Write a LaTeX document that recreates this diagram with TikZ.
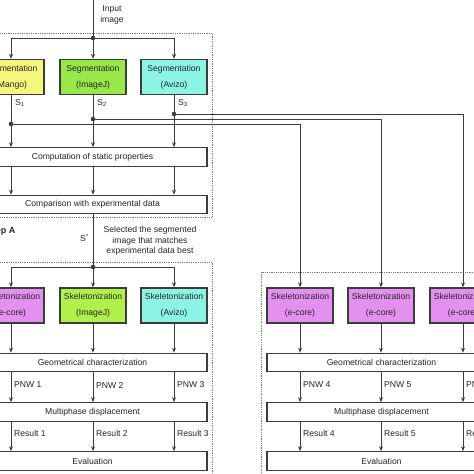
\documentclass[tikz,border=0pt]{standalone}
\usepackage{fontspec}
\setmainfont{Liberation Sans}
\usetikzlibrary{arrows.meta}
\definecolor{segyellow}{RGB}{246,246,124}
\definecolor{seggreen}{RGB}{152,232,72}
\definecolor{skelgreen}{RGB}{176,240,74}
\definecolor{segcyan}{RGB}{140,244,228}
\definecolor{skelviolet}{RGB}{228,144,240}
\definecolor{lineg}{RGB}{60,60,60}
\begin{document}
\begin{tikzpicture}[x=1pt,y=-1pt,
    font=\fontsize{8.6}{10.5}\selectfont, text=black!85,
    box/.style={draw=lineg, line width=1.3pt, minimum width=66pt, minimum height=35pt,
      inner sep=0pt, align=center, font=\fontsize{8.6}{16}\selectfont},
    bar/.style={draw=lineg, line width=1.1pt, fill=white, minimum width=229pt,
      minimum height=18.5pt, inner sep=0pt},
    arr/.style={draw=lineg, line width=.9pt, -{Stealth[length=5pt,width=4pt]}},
    lin/.style={draw=lineg, line width=.9pt},
    frame/.style={draw=gray, densely dotted, line width=.8pt},
    lbl/.style={anchor=west, inner sep=0pt}]
  \useasboundingbox (0,0) rectangle (474,474);
  % dotted frames
  \draw[frame] (-30,33) rectangle (212,217);
  \draw[frame] (-30,262) rectangle (212,490);
  \draw[frame] (261,272) rectangle (500,490);
  % step A: segmentation
  \coordinate (inp) at (93,-5);
  \coordinate (jin) at (93,38);
  \node[align=center] (inlbl) at (112,15) {Input\\image};
  \node[box, fill=segyellow] (segM) at (11,77) {Segmentation\\(Mango)};
  \node[box, fill=seggreen] (segI) at (93,77) {Segmentation\\(ImageJ)};
  \node[box, fill=segcyan] (segA) at (174,77) {Segmentation\\(Avizo)};
  \node[lbl] (s1) at (15,103) {S\textsubscript{1}};
  \node[lbl] (s2) at (97,103) {S\textsubscript{2}};
  \node[lbl] (s3) at (178,103) {S\textsubscript{3}};
  \node[bar] (compSP) at (92.5,157) {Computation of static properties};
  \node[bar] (compED) at (92.5,204.5) {Comparison with experimental data};
  \coordinate (j1) at (11,124);
  \coordinate (j2) at (93,119);
  \coordinate (j3) at (174,114);
  \draw[lin] (inp) -- (jin);
  \draw[arr] (jin) -| (segM.north);
  \draw[arr] (jin) -- (segI.north);
  \draw[arr] (jin) -| (segA.north);
  \draw[arr] (segM.south) -- (segM.south |- compSP.north);
  \draw[arr] (segI.south) -- (segI.south |- compSP.north);
  \draw[arr] (segA.south) -- (segA.south |- compSP.north);
  \draw[arr] (compSP.south -| segM) -- (compED.north -| segM);
  \draw[arr] (compSP.south -| segI) -- (compED.north -| segI);
  \draw[arr] (compSP.south -| segA) -- (compED.north -| segA);
  \node[anchor=east, font=\fontsize{9}{10}\selectfont\bfseries] (stepA) at (19,231) {Step A};
  \node[anchor=east, inner sep=0pt] (sstar) at (89,238) {S\textsuperscript{*}};
  \node[align=center] (sellbl) at (150,241) {Selected the segmented\\image that matches\\experimental data best};
  % skeletonization of S*
  \coordinate (jsel) at (93,267);
  \node[box, fill=skelviolet] (skelE) at (11,305.5) {Skeletonization\\(e-core)};
  \node[box, fill=skelgreen] (skelI) at (93,305.5) {Skeletonization\\(ImageJ)};
  \node[box, fill=segcyan] (skelA) at (174,305.5) {Skeletonization\\(Avizo)};
  \node[bar] (geomL) at (92.5,362.5) {Geometrical characterization};
  \node[bar] (multL) at (92.5,412) {Multiphase displacement};
  \node[bar] (evalL) at (92.5,461) {Evaluation};
  \draw[lin] (compED.south -| segI) -- (jsel);
  \draw[arr] (jsel) -| (skelE.north);
  \draw[arr] (jsel) -- (skelI.north);
  \draw[arr] (jsel) -| (skelA.north);
  \draw[arr] (skelE.south) -- (skelE.south |- geomL.north);
  \draw[arr] (skelI.south) -- (skelI.south |- geomL.north);
  \draw[arr] (skelA.south) -- (skelA.south |- geomL.north);
  \draw[arr] (geomL.south -| skelE) -- (multL.north -| skelE);
  \draw[arr] (geomL.south -| skelI) -- (multL.north -| skelI);
  \draw[arr] (geomL.south -| skelA) -- (multL.north -| skelA);
  \draw[arr] (multL.south -| skelE) -- (evalL.north -| skelE);
  \draw[arr] (multL.south -| skelI) -- (evalL.north -| skelI);
  \draw[arr] (multL.south -| skelA) -- (evalL.north -| skelA);
  \node[lbl] (pnw1) at (14,385) {PNW 1};
  \node[lbl] (pnw2) at (96,385) {PNW 2};
  \node[lbl] (pnw3) at (177,385) {PNW 3};
  \node[lbl] (res1) at (14,433) {Result 1};
  \node[lbl] (res2) at (96,433) {Result 2};
  \node[lbl] (res3) at (177,433) {Result 3};
  % skeletonization of S1, S2, S3 (e-core)
  \node[box, fill=skelviolet] (skelR1) at (300,305.5) {Skeletonization\\(e-core)};
  \node[box, fill=skelviolet] (skelR2) at (381,305.5) {Skeletonization\\(e-core)};
  \node[box, fill=skelviolet] (skelR3) at (463,305.5) {Skeletonization\\(e-core)};
  \node[bar] (geomR) at (381.5,362.5) {Geometrical characterization};
  \node[bar] (multR) at (381.5,412) {Multiphase displacement};
  \node[bar] (evalR) at (381.5,461) {Evaluation};
  \draw[arr] (j1) -| (skelR1.north);
  \draw[arr] (j2) -| (skelR2.north);
  \draw[arr] (j3) -| (skelR3.north);
  \draw[arr] (skelR1.south) -- (skelR1.south |- geomR.north);
  \draw[arr] (skelR2.south) -- (skelR2.south |- geomR.north);
  \draw[arr] (skelR3.south) -- (skelR3.south |- geomR.north);
  \draw[arr] (geomR.south -| skelR1) -- (multR.north -| skelR1);
  \draw[arr] (geomR.south -| skelR2) -- (multR.north -| skelR2);
  \draw[arr] (geomR.south -| skelR3) -- (multR.north -| skelR3);
  \draw[arr] (multR.south -| skelR1) -- (evalR.north -| skelR1);
  \draw[arr] (multR.south -| skelR2) -- (evalR.north -| skelR2);
  \draw[arr] (multR.south -| skelR3) -- (evalR.north -| skelR3);
  \node[lbl] (pnw4) at (303,385) {PNW 4};
  \node[lbl] (pnw5) at (384,385) {PNW 5};
  \node[lbl] (pnw6) at (466,385) {PNW 6};
  \node[lbl] (res4) at (303,433) {Result 4};
  \node[lbl] (res5) at (384,433) {Result 5};
  \node[lbl] (res6) at (466,433) {Result 6};
  % junction dots
  \foreach \j in {jin,j1,j2,j3,jsel}
    \fill[lineg] (\j) circle (2.3pt);
\end{tikzpicture}
\end{document}
